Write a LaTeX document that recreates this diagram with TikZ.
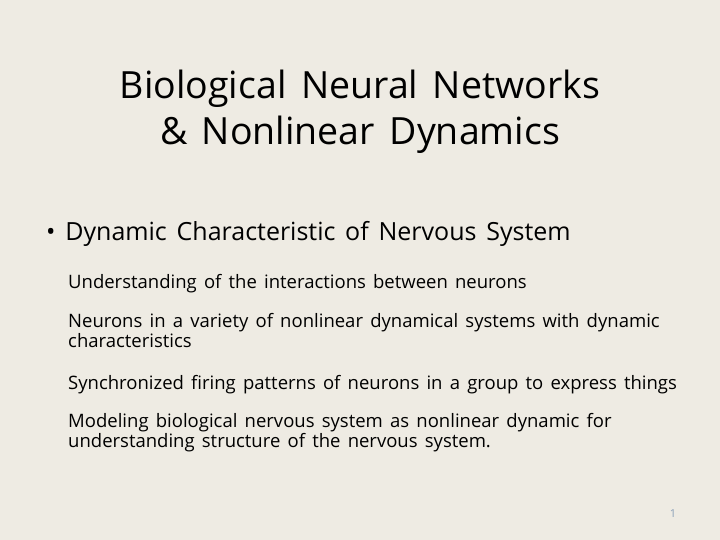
\documentclass[tikz,border=0pt]{standalone}
\usepackage{fontspec}
\setmainfont[WordSpace=1.5]{Open Sans}
\definecolor{bg}{HTML}{EEEBE3}
\definecolor{pg}{HTML}{8AA0B8}
\begin{document}
\begin{tikzpicture}[x=1pt,y=-1pt,
  sub/.style={anchor=north west,align=left,font=\fontsize{18.5}{20}\selectfont,inner sep=0pt}]
\fill[bg] (0,0) rectangle (720,540);
\useasboundingbox (0,0) rectangle (720,540);
\node (t) at (360,112) [align=center,font=\fontsize{37.5}{46}\selectfont] {Biological Neural Networks\\\& Nonlinear Dynamics};
\node (b) at (46,234) [anchor=west,font=\fontsize{25}{28}\selectfont,inner sep=0pt] {\textbullet\ Dynamic Characteristic of Nervous System};
\node (s1) at (68,274) [sub] {Understanding of the interactions between neurons};
\node (s2) at (68,313) [sub] {Neurons in a variety of nonlinear dynamical systems with dynamic\\characteristics};
\node (s3) at (68,375) [sub] {Synchronized firing patterns of neurons in a group to express things};
\node (s4) at (68,413) [sub] {Modeling biological nervous system as nonlinear dynamic for\\understanding structure of the nervous system.};
\node (p) at (673,514) [text=pg,font=\fontsize{11}{13}\selectfont] {1};
\end{tikzpicture}
\end{document}
